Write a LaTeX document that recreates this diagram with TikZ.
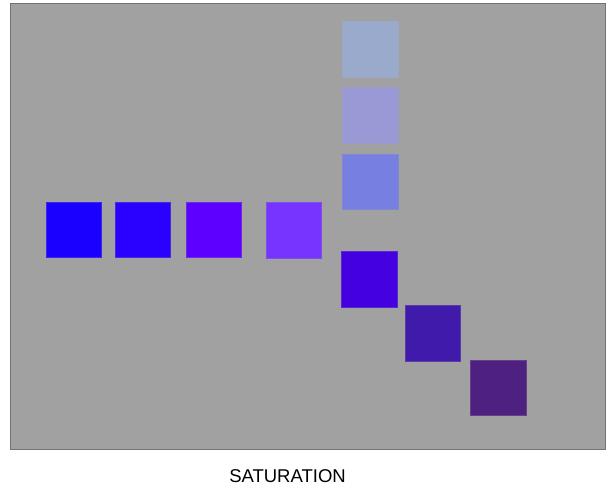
\documentclass[tikz,border=0pt]{standalone}
\usepackage{fontspec}
\setmainfont{Liberation Sans}
\begin{document}
\begin{tikzpicture}[x=1pt,y=-1pt,
  sq/.style={minimum width=55.5pt,minimum height=55.5pt,inner sep=0pt,draw=#1!75!bg,line width=0.5pt,fill=#1,anchor=north west}]
\definecolor{bg}{HTML}{A1A1A1}
\definecolor{cA}{HTML}{1A00FF}
\definecolor{cB}{HTML}{2A00FF}
\definecolor{cC}{HTML}{5E00FF}
\definecolor{cD}{HTML}{7733FF}
\definecolor{cE}{HTML}{99AACC}
\definecolor{cF}{HTML}{9999D6}
\definecolor{cG}{HTML}{7780E0}
\definecolor{cH}{HTML}{4400E0}
\definecolor{cI}{HTML}{3F1AAB}
\definecolor{cJ}{HTML}{4E2080}
\useasboundingbox (0,0) rectangle (609,499);
\node[draw=gray!90!black,line width=0.8pt,fill=bg,minimum width=595pt,minimum height=446pt,inner sep=0pt,anchor=north west] (panel) at (10,3) {};
\node[sq=cA] (r1) at (45.5,201.5) {};
\node[sq=cB] (r2) at (114.5,201.5) {};
\node[sq=cC] (r3) at (185.5,201.5) {};
\node[sq=cD] (r4) at (265.5,202) {};
\node[sq=cE] (c1) at (342,21) {};
\node[sq=cF] (c2) at (342,87) {};
\node[sq=cG] (c3) at (342,153.5) {};
\node[sq=cH] (d1) at (341,251) {};
\node[sq=cI] (d2) at (404.5,305) {};
\node[sq=cJ] (d3) at (470,359.5) {};
\node[font=\fontsize{18.5}{22}\selectfont,inner sep=0pt] (lbl) at (287.5,476) {SATURATION};
\end{tikzpicture}
\end{document}
